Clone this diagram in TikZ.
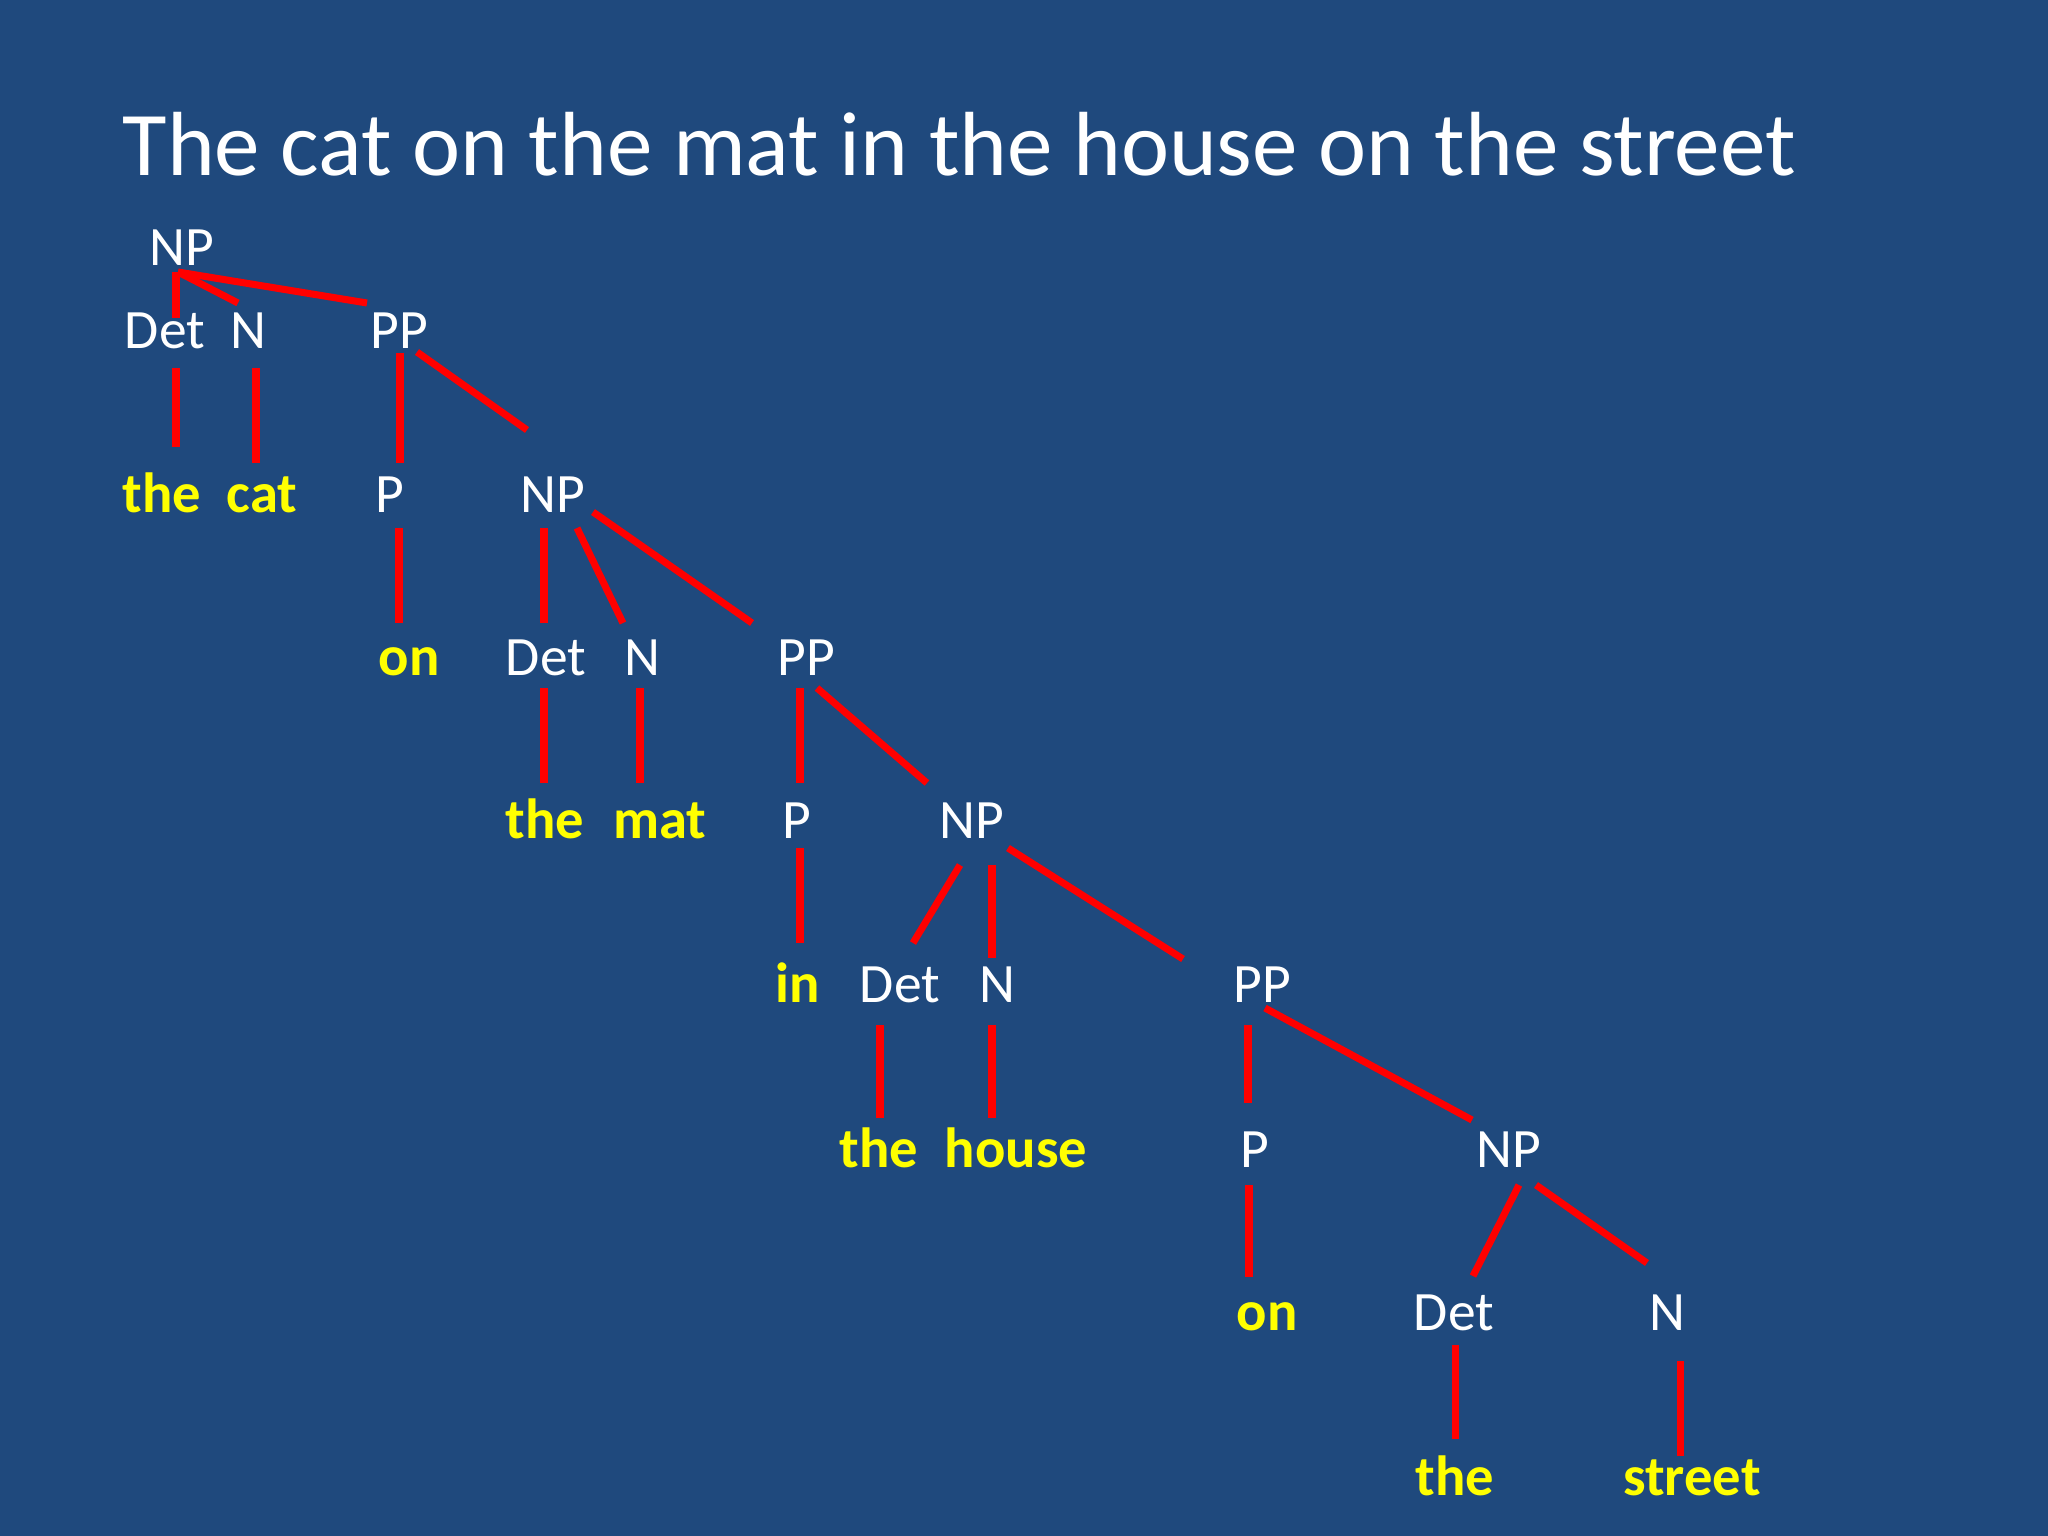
\documentclass[tikz,border=0pt]{standalone}
\usepackage{fontspec}
\setmainfont{Carlito}
\usetikzlibrary{calc}
\definecolor{slidebg}{RGB}{31,73,125}
\definecolor{branchred}{RGB}{255,0,0}
\definecolor{wordyellow}{RGB}{255,255,0}
\begin{document}
\begin{tikzpicture}[x=0.01cm,y=-0.01cm,
  lab/.style={anchor=base,inner sep=0pt,text=white,font=\fontsize{15.8pt}{19pt}\selectfont},
  word/.style={anchor=base,inner sep=0pt,text=wordyellow,font=\fontsize{16.1pt}{19pt}\selectfont\bfseries},
  titletext/.style={anchor=base west,inner sep=0pt,text=white,font=\fontsize{25.9pt}{31pt}\selectfont},
  branch/.style={draw=branchred,line width=2pt}]
\fill[slidebg] (0,0) rectangle (2048,1536);
\useasboundingbox (0,0) rectangle (2048,1536);

\node[titletext] (title) at (122,175) {The cat on the mat in the house on the street};

% row 0
\node[lab] (np0) at (182,265) {NP};
% row 1
\node[lab] (det1) at (165,348) {Det};
\node[lab] (n1) at (248,348) {N};
\node[lab] (pp1) at (399,348) {PP};
% row 2
\node[word] (the1) at (162,512) {the};
\node[word] (cat) at (262,512) {cat};
\node[lab] (p1) at (390,512) {P};
\node[lab] (np2) at (553,512) {NP};
% row 3
\node[word] (on1) at (409,675) {on};
\node[lab] (det3) at (546,675) {Det};
\node[lab] (n3) at (642,675) {N};
\node[lab] (pp3) at (806,675) {PP};
% row 4
\node[word] (the3) at (545,838) {the};
\node[word] (mat) at (660,838) {mat};
\node[lab] (p3) at (797,838) {P};
\node[lab] (np4) at (972,838) {NP};
% row 5
\node[word] (in) at (798,1002) {in};
\node[lab] (det5) at (900,1002) {Det};
\node[lab] (n5) at (997,1002) {N};
\node[lab] (pp5) at (1262,1002) {PP};
% row 6
\node[word] (the5) at (879,1167) {the};
\node[word] (house) at (1016,1167) {house};
\node[lab] (p5) at (1255,1167) {P};
\node[lab] (np6) at (1509,1167) {NP};
% row 7
\node[word] (on5) at (1267,1330) {on};
\node[lab] (det7) at (1454,1330) {Det};
\node[lab] (n7) at (1667,1330) {N};
% row 8
\node[word] (the7) at (1455,1495) {the};
\node[word] (street) at (1692,1495) {street};

% branches
\draw[branch] ($(np0.base)+(-6,7)$) -- ($(det1.base)+(11,-30)$);
\draw[branch] ($(np0.base)+(-4,7)$) -- ($(n1.base)+(-10,-45)$);
\draw[branch] ($(np0.base)+(-4,7)$) -- ($(pp1.base)+(-32,-45)$);
\draw[branch] ($(det1.base)+(11,20)$) -- ($(the1.base)+(14,-65)$);
\draw[branch] ($(n1.base)+(8,20)$) -- ($(cat.base)+(-6,-49)$);
\draw[branch] ($(pp1.base)+(1,5)$) -- ($(p1.base)+(10,-49)$);
\draw[branch] ($(pp1.base)+(18,4)$) -- ($(np2.base)+(-26,-82)$);
\draw[branch] ($(p1.base)+(9,16)$) -- ($(on1.base)+(-10,-52)$);
\draw[branch] ($(np2.base)+(-9,16)$) -- ($(det3.base)+(-2,-52)$);
\draw[branch] ($(np2.base)+(24,16)$) -- ($(n3.base)+(-19,-52)$);
\draw[branch] ($(np2.base)+(40,0)$) -- ($(pp3.base)+(-54,-52)$);
\draw[branch] ($(det3.base)+(-2,13)$) -- ($(the3.base)+(-1,-55)$);
\draw[branch] ($(n3.base)+(-2,13)$) -- ($(mat.base)+(-20,-55)$);
\draw[branch] ($(pp3.base)+(-6,13)$) -- ($(p3.base)+(3,-55)$);
\draw[branch] ($(pp3.base)+(11,13)$) -- ($(np4.base)+(-45,-55)$);
\draw[branch] ($(p3.base)+(3,10)$) -- ($(in.base)+(2,-59)$);
\draw[branch] ($(np4.base)+(-12,27)$) -- ($(det5.base)+(13,-59)$);
\draw[branch] ($(np4.base)+(20,27)$) -- ($(n5.base)+(-5,-44)$);
\draw[branch] ($(np4.base)+(36,10)$) -- ($(pp5.base)+(-79,-43)$);
\draw[branch] ($(det5.base)+(-20,23)$) -- ($(the5.base)+(1,-49)$);
\draw[branch] ($(n5.base)+(-5,23)$) -- ($(house.base)+(-24,-49)$);
\draw[branch] ($(pp5.base)+(-14,23)$) -- ($(p5.base)+(-7,-64)$);
\draw[branch] ($(pp5.base)+(3,6)$) -- ($(np6.base)+(-37,-47)$);
\draw[branch] ($(p5.base)+(-6,18)$) -- ($(on5.base)+(-18,-53)$);
\draw[branch] ($(np6.base)+(10,18)$) -- ($(det7.base)+(19,-54)$);
\draw[branch] ($(np6.base)+(27,18)$) -- ($(n7.base)+(-20,-67)$);
\draw[branch] ($(det7.base)+(1,15)$) -- ($(the7.base)+(0,-56)$);
\draw[branch] ($(n7.base)+(13,31)$) -- ($(street.base)+(-12,-39)$);
\end{tikzpicture}
\end{document}
